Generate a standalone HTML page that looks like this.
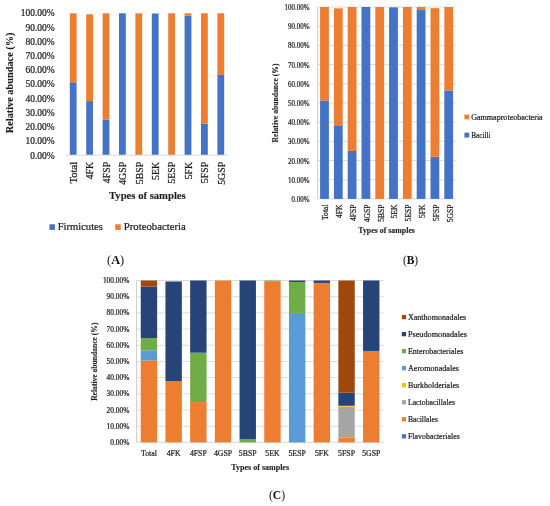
<!DOCTYPE html>
<html lang="en">
<head>
<meta charset="utf-8">
<title>Relative abundance charts</title>
<style>
html,body{margin:0;padding:0;background:#fff;}
body{width:550px;height:506px;overflow:hidden;}
svg{display:block;font-family:"Liberation Serif","DejaVu Serif",serif;}
</style>
</head>
<body>
<svg width="550" height="506" viewBox="0 0 550 506">
<rect x="0" y="0" width="550" height="506" fill="#ffffff"/>
<g id="chartA">
<rect x="69.80" y="82.26" width="6.80" height="72.64" fill="#4472C4"/>
<rect x="69.80" y="13.30" width="6.80" height="68.96" fill="#ED7D31"/>
<rect x="86.20" y="101.09" width="6.80" height="53.81" fill="#4472C4"/>
<rect x="86.20" y="14.29" width="6.80" height="86.80" fill="#ED7D31"/>
<rect x="102.60" y="119.50" width="6.80" height="35.40" fill="#4472C4"/>
<rect x="102.60" y="13.30" width="6.80" height="106.20" fill="#ED7D31"/>
<rect x="119.00" y="13.30" width="6.80" height="141.60" fill="#4472C4"/>
<rect x="135.40" y="13.30" width="6.80" height="141.60" fill="#ED7D31"/>
<rect x="151.80" y="14.01" width="6.80" height="140.89" fill="#4472C4"/>
<rect x="151.80" y="13.30" width="6.80" height="0.71" fill="#ED7D31"/>
<rect x="168.20" y="13.30" width="6.80" height="141.60" fill="#ED7D31"/>
<rect x="184.60" y="15.57" width="6.80" height="139.33" fill="#4472C4"/>
<rect x="184.60" y="13.30" width="6.80" height="2.27" fill="#ED7D31"/>
<rect x="201.00" y="123.75" width="6.80" height="31.15" fill="#4472C4"/>
<rect x="201.00" y="13.30" width="6.80" height="110.45" fill="#ED7D31"/>
<rect x="217.40" y="74.90" width="6.80" height="80.00" fill="#4472C4"/>
<rect x="217.40" y="13.30" width="6.80" height="61.60" fill="#ED7D31"/>
<line x1="65.50" y1="155.20" x2="228.50" y2="155.20" stroke="#D0D0D0" stroke-width="0.8"/>
<text x="54.70" y="158.65" font-size="9.6" text-anchor="end" fill="#1c1c1c" stroke="#1c1c1c" stroke-width="0.22" textLength="24.44" lengthAdjust="spacingAndGlyphs">0.00%</text>
<text x="54.70" y="144.42" font-size="9.6" text-anchor="end" fill="#1c1c1c" stroke="#1c1c1c" stroke-width="0.22" textLength="29.17" lengthAdjust="spacingAndGlyphs">10.00%</text>
<text x="54.70" y="130.18" font-size="9.6" text-anchor="end" fill="#1c1c1c" stroke="#1c1c1c" stroke-width="0.22" textLength="29.17" lengthAdjust="spacingAndGlyphs">20.00%</text>
<text x="54.70" y="115.95" font-size="9.6" text-anchor="end" fill="#1c1c1c" stroke="#1c1c1c" stroke-width="0.22" textLength="29.17" lengthAdjust="spacingAndGlyphs">30.00%</text>
<text x="54.70" y="101.71" font-size="9.6" text-anchor="end" fill="#1c1c1c" stroke="#1c1c1c" stroke-width="0.22" textLength="29.17" lengthAdjust="spacingAndGlyphs">40.00%</text>
<text x="54.70" y="87.48" font-size="9.6" text-anchor="end" fill="#1c1c1c" stroke="#1c1c1c" stroke-width="0.22" textLength="29.17" lengthAdjust="spacingAndGlyphs">50.00%</text>
<text x="54.70" y="73.24" font-size="9.6" text-anchor="end" fill="#1c1c1c" stroke="#1c1c1c" stroke-width="0.22" textLength="29.17" lengthAdjust="spacingAndGlyphs">60.00%</text>
<text x="54.70" y="59.01" font-size="9.6" text-anchor="end" fill="#1c1c1c" stroke="#1c1c1c" stroke-width="0.22" textLength="29.17" lengthAdjust="spacingAndGlyphs">70.00%</text>
<text x="54.70" y="44.77" font-size="9.6" text-anchor="end" fill="#1c1c1c" stroke="#1c1c1c" stroke-width="0.22" textLength="29.17" lengthAdjust="spacingAndGlyphs">80.00%</text>
<text x="54.70" y="30.53" font-size="9.6" text-anchor="end" fill="#1c1c1c" stroke="#1c1c1c" stroke-width="0.22" textLength="29.17" lengthAdjust="spacingAndGlyphs">90.00%</text>
<text x="54.70" y="16.30" font-size="9.6" text-anchor="end" fill="#1c1c1c" stroke="#1c1c1c" stroke-width="0.22" textLength="33.90" lengthAdjust="spacingAndGlyphs">100.00%</text>
<text x="77.10" y="161.90" font-size="9.8" text-anchor="end" fill="#1c1c1c" stroke="#1c1c1c" stroke-width="0.22" transform="rotate(-90 77.10 161.90)" textLength="21.60" lengthAdjust="spacingAndGlyphs">Total</text>
<text x="93.50" y="161.90" font-size="9.8" text-anchor="end" fill="#1c1c1c" stroke="#1c1c1c" stroke-width="0.22" transform="rotate(-90 93.50 161.90)">4FK</text>
<text x="109.90" y="161.90" font-size="9.8" text-anchor="end" fill="#1c1c1c" stroke="#1c1c1c" stroke-width="0.22" transform="rotate(-90 109.90 161.90)">4FSP</text>
<text x="126.30" y="161.90" font-size="9.8" text-anchor="end" fill="#1c1c1c" stroke="#1c1c1c" stroke-width="0.22" transform="rotate(-90 126.30 161.90)">4GSP</text>
<text x="142.70" y="161.90" font-size="9.8" text-anchor="end" fill="#1c1c1c" stroke="#1c1c1c" stroke-width="0.22" transform="rotate(-90 142.70 161.90)">5BSP</text>
<text x="159.10" y="161.90" font-size="9.8" text-anchor="end" fill="#1c1c1c" stroke="#1c1c1c" stroke-width="0.22" transform="rotate(-90 159.10 161.90)">5EK</text>
<text x="175.50" y="161.90" font-size="9.8" text-anchor="end" fill="#1c1c1c" stroke="#1c1c1c" stroke-width="0.22" transform="rotate(-90 175.50 161.90)">5ESP</text>
<text x="191.90" y="161.90" font-size="9.8" text-anchor="end" fill="#1c1c1c" stroke="#1c1c1c" stroke-width="0.22" transform="rotate(-90 191.90 161.90)">5FK</text>
<text x="208.30" y="161.90" font-size="9.8" text-anchor="end" fill="#1c1c1c" stroke="#1c1c1c" stroke-width="0.22" transform="rotate(-90 208.30 161.90)">5FSP</text>
<text x="224.70" y="161.90" font-size="9.8" text-anchor="end" fill="#1c1c1c" stroke="#1c1c1c" stroke-width="0.22" transform="rotate(-90 224.70 161.90)">5GSP</text>
<text x="147.40" y="199.40" font-size="10.6" text-anchor="middle" fill="#1c1c1c" font-weight="bold" stroke="#1c1c1c" stroke-width="0.1" textLength="76.70" lengthAdjust="spacingAndGlyphs">Types of samples</text>
<text x="13.50" y="82.90" font-size="10.2" text-anchor="middle" fill="#1c1c1c" font-weight="bold" stroke="#1c1c1c" stroke-width="0.1" transform="rotate(-90 13.50 82.90)" textLength="100.70" lengthAdjust="spacingAndGlyphs">Relative abundace (%)</text>
<rect x="49.40" y="224.30" width="5.60" height="5.60" fill="#4472C4"/>
<text x="57.70" y="230.20" font-size="10.6" text-anchor="start" fill="#1c1c1c" stroke="#1c1c1c" stroke-width="0.22" textLength="45.20" lengthAdjust="spacingAndGlyphs">Firmicutes</text>
<rect x="115.20" y="224.30" width="5.60" height="5.60" fill="#ED7D31"/>
<text x="123.80" y="230.20" font-size="10.6" text-anchor="start" fill="#1c1c1c" stroke="#1c1c1c" stroke-width="0.22" textLength="61.90" lengthAdjust="spacingAndGlyphs">Proteobacteria</text>
</g>
<g id="chartB">
<line x1="317.60" y1="198.90" x2="455.60" y2="198.90" stroke="#D6D6D6" stroke-width="0.85"/>
<line x1="317.60" y1="179.71" x2="455.60" y2="179.71" stroke="#D6D6D6" stroke-width="0.85"/>
<line x1="317.60" y1="160.52" x2="455.60" y2="160.52" stroke="#D6D6D6" stroke-width="0.85"/>
<line x1="317.60" y1="141.33" x2="455.60" y2="141.33" stroke="#D6D6D6" stroke-width="0.85"/>
<line x1="317.60" y1="122.14" x2="455.60" y2="122.14" stroke="#D6D6D6" stroke-width="0.85"/>
<line x1="317.60" y1="102.95" x2="455.60" y2="102.95" stroke="#D6D6D6" stroke-width="0.85"/>
<line x1="317.60" y1="83.76" x2="455.60" y2="83.76" stroke="#D6D6D6" stroke-width="0.85"/>
<line x1="317.60" y1="64.57" x2="455.60" y2="64.57" stroke="#D6D6D6" stroke-width="0.85"/>
<line x1="317.60" y1="45.38" x2="455.60" y2="45.38" stroke="#D6D6D6" stroke-width="0.85"/>
<line x1="317.60" y1="26.19" x2="455.60" y2="26.19" stroke="#D6D6D6" stroke-width="0.85"/>
<line x1="317.60" y1="7.00" x2="455.60" y2="7.00" stroke="#D6D6D6" stroke-width="0.85"/>
<line x1="317.60" y1="7.00" x2="317.60" y2="198.90" stroke="#BFBFBF" stroke-width="0.8"/>
<rect x="320.10" y="100.46" width="8.80" height="98.44" fill="#4472C4"/>
<rect x="320.10" y="7.00" width="8.80" height="93.46" fill="#ED7D31"/>
<rect x="333.90" y="125.98" width="8.80" height="72.92" fill="#4472C4"/>
<rect x="333.90" y="8.34" width="8.80" height="117.63" fill="#ED7D31"/>
<rect x="347.70" y="150.93" width="8.80" height="47.98" fill="#4472C4"/>
<rect x="347.70" y="7.00" width="8.80" height="143.93" fill="#ED7D31"/>
<rect x="361.50" y="7.00" width="8.80" height="191.90" fill="#4472C4"/>
<rect x="375.30" y="7.00" width="8.80" height="191.90" fill="#ED7D31"/>
<rect x="389.10" y="7.96" width="8.80" height="190.94" fill="#4472C4"/>
<rect x="389.10" y="7.00" width="8.80" height="0.96" fill="#ED7D31"/>
<rect x="402.90" y="7.00" width="8.80" height="191.90" fill="#ED7D31"/>
<rect x="416.70" y="10.07" width="8.80" height="188.83" fill="#4472C4"/>
<rect x="416.70" y="7.00" width="8.80" height="3.07" fill="#ED7D31"/>
<rect x="430.50" y="156.68" width="8.80" height="42.22" fill="#4472C4"/>
<rect x="430.50" y="8.15" width="8.80" height="148.53" fill="#ED7D31"/>
<rect x="444.30" y="90.48" width="8.80" height="108.42" fill="#4472C4"/>
<rect x="444.30" y="7.00" width="8.80" height="83.48" fill="#ED7D31"/>
<text x="309.50" y="202.00" font-size="7.5" text-anchor="end" fill="#1c1c1c" stroke="#1c1c1c" stroke-width="0.22" textLength="17.95" lengthAdjust="spacingAndGlyphs">0.00%</text>
<text x="309.50" y="182.81" font-size="7.5" text-anchor="end" fill="#1c1c1c" stroke="#1c1c1c" stroke-width="0.22" textLength="21.43" lengthAdjust="spacingAndGlyphs">10.00%</text>
<text x="309.50" y="163.62" font-size="7.5" text-anchor="end" fill="#1c1c1c" stroke="#1c1c1c" stroke-width="0.22" textLength="21.43" lengthAdjust="spacingAndGlyphs">20.00%</text>
<text x="309.50" y="144.43" font-size="7.5" text-anchor="end" fill="#1c1c1c" stroke="#1c1c1c" stroke-width="0.22" textLength="21.43" lengthAdjust="spacingAndGlyphs">30.00%</text>
<text x="309.50" y="125.24" font-size="7.5" text-anchor="end" fill="#1c1c1c" stroke="#1c1c1c" stroke-width="0.22" textLength="21.43" lengthAdjust="spacingAndGlyphs">40.00%</text>
<text x="309.50" y="106.05" font-size="7.5" text-anchor="end" fill="#1c1c1c" stroke="#1c1c1c" stroke-width="0.22" textLength="21.43" lengthAdjust="spacingAndGlyphs">50.00%</text>
<text x="309.50" y="86.86" font-size="7.5" text-anchor="end" fill="#1c1c1c" stroke="#1c1c1c" stroke-width="0.22" textLength="21.43" lengthAdjust="spacingAndGlyphs">60.00%</text>
<text x="309.50" y="67.67" font-size="7.5" text-anchor="end" fill="#1c1c1c" stroke="#1c1c1c" stroke-width="0.22" textLength="21.43" lengthAdjust="spacingAndGlyphs">70.00%</text>
<text x="309.50" y="48.48" font-size="7.5" text-anchor="end" fill="#1c1c1c" stroke="#1c1c1c" stroke-width="0.22" textLength="21.43" lengthAdjust="spacingAndGlyphs">80.00%</text>
<text x="309.50" y="29.29" font-size="7.5" text-anchor="end" fill="#1c1c1c" stroke="#1c1c1c" stroke-width="0.22" textLength="21.43" lengthAdjust="spacingAndGlyphs">90.00%</text>
<text x="309.50" y="10.10" font-size="7.5" text-anchor="end" fill="#1c1c1c" stroke="#1c1c1c" stroke-width="0.22" textLength="24.90" lengthAdjust="spacingAndGlyphs">100.00%</text>
<text x="328.30" y="204.50" font-size="7.6" text-anchor="end" fill="#1c1c1c" stroke="#1c1c1c" stroke-width="0.22" transform="rotate(-90 328.30 204.50)">Total</text>
<text x="342.10" y="204.50" font-size="7.6" text-anchor="end" fill="#1c1c1c" stroke="#1c1c1c" stroke-width="0.22" transform="rotate(-90 342.10 204.50)">4FK</text>
<text x="355.90" y="204.50" font-size="7.6" text-anchor="end" fill="#1c1c1c" stroke="#1c1c1c" stroke-width="0.22" transform="rotate(-90 355.90 204.50)">4FSP</text>
<text x="369.70" y="204.50" font-size="7.6" text-anchor="end" fill="#1c1c1c" stroke="#1c1c1c" stroke-width="0.22" transform="rotate(-90 369.70 204.50)">4GSP</text>
<text x="383.50" y="204.50" font-size="7.6" text-anchor="end" fill="#1c1c1c" stroke="#1c1c1c" stroke-width="0.22" transform="rotate(-90 383.50 204.50)">5BSP</text>
<text x="397.30" y="204.50" font-size="7.6" text-anchor="end" fill="#1c1c1c" stroke="#1c1c1c" stroke-width="0.22" transform="rotate(-90 397.30 204.50)">5EK</text>
<text x="411.10" y="204.50" font-size="7.6" text-anchor="end" fill="#1c1c1c" stroke="#1c1c1c" stroke-width="0.22" transform="rotate(-90 411.10 204.50)">5ESP</text>
<text x="424.90" y="204.50" font-size="7.6" text-anchor="end" fill="#1c1c1c" stroke="#1c1c1c" stroke-width="0.22" transform="rotate(-90 424.90 204.50)">5FK</text>
<text x="438.70" y="204.50" font-size="7.6" text-anchor="end" fill="#1c1c1c" stroke="#1c1c1c" stroke-width="0.22" transform="rotate(-90 438.70 204.50)">5FSP</text>
<text x="452.50" y="204.50" font-size="7.6" text-anchor="end" fill="#1c1c1c" stroke="#1c1c1c" stroke-width="0.22" transform="rotate(-90 452.50 204.50)">5GSP</text>
<text x="386.60" y="233.10" font-size="7.9" text-anchor="middle" fill="#1c1c1c" font-weight="bold" stroke="#1c1c1c" stroke-width="0.1" textLength="56.70" lengthAdjust="spacingAndGlyphs">Types of samples</text>
<text x="278.40" y="103.00" font-size="7.7" text-anchor="middle" fill="#1c1c1c" font-weight="bold" stroke="#1c1c1c" stroke-width="0.1" transform="rotate(-90 278.40 103.00)" textLength="79.00" lengthAdjust="spacingAndGlyphs">Relative abundance (%)</text>
<rect x="464.40" y="114.60" width="4.80" height="4.80" fill="#ED7D31"/>
<text x="471.20" y="119.70" font-size="8.0" text-anchor="start" fill="#1c1c1c" stroke="#1c1c1c" stroke-width="0.22" textLength="71.50" lengthAdjust="spacingAndGlyphs">Gammaproteobacteria</text>
<rect x="464.40" y="132.70" width="4.80" height="4.80" fill="#4472C4"/>
<text x="471.20" y="137.80" font-size="8.0" text-anchor="start" fill="#1c1c1c" stroke="#1c1c1c" stroke-width="0.22" textLength="19.30" lengthAdjust="spacingAndGlyphs">Bacilli</text>
</g>
<g id="chartC">
<line x1="136.60" y1="442.40" x2="383.60" y2="442.40" stroke="#D6D6D6" stroke-width="0.85"/>
<line x1="136.60" y1="426.21" x2="383.60" y2="426.21" stroke="#D6D6D6" stroke-width="0.85"/>
<line x1="136.60" y1="410.02" x2="383.60" y2="410.02" stroke="#D6D6D6" stroke-width="0.85"/>
<line x1="136.60" y1="393.83" x2="383.60" y2="393.83" stroke="#D6D6D6" stroke-width="0.85"/>
<line x1="136.60" y1="377.64" x2="383.60" y2="377.64" stroke="#D6D6D6" stroke-width="0.85"/>
<line x1="136.60" y1="361.45" x2="383.60" y2="361.45" stroke="#D6D6D6" stroke-width="0.85"/>
<line x1="136.60" y1="345.26" x2="383.60" y2="345.26" stroke="#D6D6D6" stroke-width="0.85"/>
<line x1="136.60" y1="329.07" x2="383.60" y2="329.07" stroke="#D6D6D6" stroke-width="0.85"/>
<line x1="136.60" y1="312.88" x2="383.60" y2="312.88" stroke="#D6D6D6" stroke-width="0.85"/>
<line x1="136.60" y1="296.69" x2="383.60" y2="296.69" stroke="#D6D6D6" stroke-width="0.85"/>
<line x1="136.60" y1="280.50" x2="383.60" y2="280.50" stroke="#D6D6D6" stroke-width="0.85"/>
<line x1="136.60" y1="280.50" x2="136.60" y2="442.40" stroke="#BFBFBF" stroke-width="0.8"/>
<rect x="140.75" y="360.96" width="16.40" height="81.44" fill="#ED7D31"/>
<rect x="140.75" y="359.99" width="16.40" height="0.97" fill="#A5A5A5"/>
<rect x="140.75" y="350.28" width="16.40" height="9.71" fill="#5B9BD5"/>
<rect x="140.75" y="338.14" width="16.40" height="12.14" fill="#70AD47"/>
<rect x="140.75" y="286.49" width="16.40" height="51.65" fill="#264478"/>
<rect x="140.75" y="280.50" width="16.40" height="5.99" fill="#9E480E"/>
<rect x="165.45" y="381.04" width="16.40" height="61.36" fill="#ED7D31"/>
<rect x="165.45" y="281.47" width="16.40" height="99.57" fill="#264478"/>
<rect x="190.15" y="402.09" width="16.40" height="40.31" fill="#ED7D31"/>
<rect x="190.15" y="352.71" width="16.40" height="49.38" fill="#70AD47"/>
<rect x="190.15" y="280.50" width="16.40" height="72.21" fill="#264478"/>
<rect x="214.85" y="280.50" width="16.40" height="161.90" fill="#ED7D31"/>
<rect x="239.55" y="439.16" width="16.40" height="3.24" fill="#70AD47"/>
<rect x="239.55" y="280.50" width="16.40" height="158.66" fill="#264478"/>
<rect x="264.25" y="281.15" width="16.40" height="161.25" fill="#ED7D31"/>
<rect x="264.25" y="280.50" width="16.40" height="0.65" fill="#70AD47"/>
<rect x="288.95" y="312.88" width="16.40" height="129.52" fill="#5B9BD5"/>
<rect x="288.95" y="282.12" width="16.40" height="30.76" fill="#70AD47"/>
<rect x="288.95" y="280.50" width="16.40" height="1.62" fill="#264478"/>
<rect x="313.65" y="282.93" width="16.40" height="159.47" fill="#ED7D31"/>
<rect x="313.65" y="280.50" width="16.40" height="2.43" fill="#264478"/>
<rect x="338.35" y="437.70" width="16.40" height="4.70" fill="#ED7D31"/>
<rect x="338.35" y="406.62" width="16.40" height="31.08" fill="#A5A5A5"/>
<rect x="338.35" y="405.81" width="16.40" height="0.81" fill="#FFC000"/>
<rect x="338.35" y="392.70" width="16.40" height="13.11" fill="#264478"/>
<rect x="338.35" y="280.50" width="16.40" height="112.20" fill="#9E480E"/>
<rect x="363.05" y="350.93" width="16.40" height="91.47" fill="#ED7D31"/>
<rect x="363.05" y="280.50" width="16.40" height="70.43" fill="#264478"/>
<text x="129.30" y="444.90" font-size="7.4" text-anchor="end" fill="#1c1c1c" stroke="#1c1c1c" stroke-width="0.22" textLength="19.03" lengthAdjust="spacingAndGlyphs">0.00%</text>
<text x="129.30" y="428.71" font-size="7.4" text-anchor="end" fill="#1c1c1c" stroke="#1c1c1c" stroke-width="0.22" textLength="22.72" lengthAdjust="spacingAndGlyphs">10.00%</text>
<text x="129.30" y="412.52" font-size="7.4" text-anchor="end" fill="#1c1c1c" stroke="#1c1c1c" stroke-width="0.22" textLength="22.72" lengthAdjust="spacingAndGlyphs">20.00%</text>
<text x="129.30" y="396.33" font-size="7.4" text-anchor="end" fill="#1c1c1c" stroke="#1c1c1c" stroke-width="0.22" textLength="22.72" lengthAdjust="spacingAndGlyphs">30.00%</text>
<text x="129.30" y="380.14" font-size="7.4" text-anchor="end" fill="#1c1c1c" stroke="#1c1c1c" stroke-width="0.22" textLength="22.72" lengthAdjust="spacingAndGlyphs">40.00%</text>
<text x="129.30" y="363.95" font-size="7.4" text-anchor="end" fill="#1c1c1c" stroke="#1c1c1c" stroke-width="0.22" textLength="22.72" lengthAdjust="spacingAndGlyphs">50.00%</text>
<text x="129.30" y="347.76" font-size="7.4" text-anchor="end" fill="#1c1c1c" stroke="#1c1c1c" stroke-width="0.22" textLength="22.72" lengthAdjust="spacingAndGlyphs">60.00%</text>
<text x="129.30" y="331.57" font-size="7.4" text-anchor="end" fill="#1c1c1c" stroke="#1c1c1c" stroke-width="0.22" textLength="22.72" lengthAdjust="spacingAndGlyphs">70.00%</text>
<text x="129.30" y="315.38" font-size="7.4" text-anchor="end" fill="#1c1c1c" stroke="#1c1c1c" stroke-width="0.22" textLength="22.72" lengthAdjust="spacingAndGlyphs">80.00%</text>
<text x="129.30" y="299.19" font-size="7.4" text-anchor="end" fill="#1c1c1c" stroke="#1c1c1c" stroke-width="0.22" textLength="22.72" lengthAdjust="spacingAndGlyphs">90.00%</text>
<text x="129.30" y="283.00" font-size="7.4" text-anchor="end" fill="#1c1c1c" stroke="#1c1c1c" stroke-width="0.22" textLength="26.40" lengthAdjust="spacingAndGlyphs">100.00%</text>
<text x="148.95" y="456.00" font-size="7.8" text-anchor="middle" fill="#1c1c1c" stroke="#1c1c1c" stroke-width="0.22">Total</text>
<text x="173.65" y="456.00" font-size="7.8" text-anchor="middle" fill="#1c1c1c" stroke="#1c1c1c" stroke-width="0.22">4FK</text>
<text x="198.35" y="456.00" font-size="7.8" text-anchor="middle" fill="#1c1c1c" stroke="#1c1c1c" stroke-width="0.22">4FSP</text>
<text x="223.05" y="456.00" font-size="7.8" text-anchor="middle" fill="#1c1c1c" stroke="#1c1c1c" stroke-width="0.22">4GSP</text>
<text x="247.75" y="456.00" font-size="7.8" text-anchor="middle" fill="#1c1c1c" stroke="#1c1c1c" stroke-width="0.22">5BSP</text>
<text x="272.45" y="456.00" font-size="7.8" text-anchor="middle" fill="#1c1c1c" stroke="#1c1c1c" stroke-width="0.22">5EK</text>
<text x="297.15" y="456.00" font-size="7.8" text-anchor="middle" fill="#1c1c1c" stroke="#1c1c1c" stroke-width="0.22">5ESP</text>
<text x="321.85" y="456.00" font-size="7.8" text-anchor="middle" fill="#1c1c1c" stroke="#1c1c1c" stroke-width="0.22">5FK</text>
<text x="346.55" y="456.00" font-size="7.8" text-anchor="middle" fill="#1c1c1c" stroke="#1c1c1c" stroke-width="0.22">5FSP</text>
<text x="371.25" y="456.00" font-size="7.8" text-anchor="middle" fill="#1c1c1c" stroke="#1c1c1c" stroke-width="0.22">5GSP</text>
<text x="260.20" y="469.70" font-size="8" text-anchor="middle" fill="#1c1c1c" font-weight="bold" stroke="#1c1c1c" stroke-width="0.1" textLength="57.70" lengthAdjust="spacingAndGlyphs">Types of samples</text>
<text x="96.90" y="361.70" font-size="7.6" text-anchor="middle" fill="#1c1c1c" font-weight="bold" stroke="#1c1c1c" stroke-width="0.1" transform="rotate(-90 96.90 361.70)" textLength="78.30" lengthAdjust="spacingAndGlyphs">Relative abundance (%)</text>
<rect x="401.80" y="314.95" width="4.30" height="4.30" fill="#9E480E"/>
<text x="407.90" y="319.70" font-size="8.1" text-anchor="start" fill="#1c1c1c" stroke="#1c1c1c" stroke-width="0.22" textLength="58.30" lengthAdjust="spacingAndGlyphs">Xanthomonadales</text>
<rect x="401.80" y="331.98" width="4.30" height="4.30" fill="#264478"/>
<text x="407.90" y="336.73" font-size="8.1" text-anchor="start" fill="#1c1c1c" stroke="#1c1c1c" stroke-width="0.22" textLength="59.00" lengthAdjust="spacingAndGlyphs">Pseudomonadales</text>
<rect x="401.80" y="349.01" width="4.30" height="4.30" fill="#70AD47"/>
<text x="407.90" y="353.76" font-size="8.1" text-anchor="start" fill="#1c1c1c" stroke="#1c1c1c" stroke-width="0.22" textLength="55.50" lengthAdjust="spacingAndGlyphs">Enterobacteriales</text>
<rect x="401.80" y="366.04" width="4.30" height="4.30" fill="#5B9BD5"/>
<text x="407.90" y="370.79" font-size="8.1" text-anchor="start" fill="#1c1c1c" stroke="#1c1c1c" stroke-width="0.22" textLength="51.10" lengthAdjust="spacingAndGlyphs">Aeromonadales</text>
<rect x="401.80" y="383.07" width="4.30" height="4.30" fill="#FFC000"/>
<text x="407.90" y="387.82" font-size="8.1" text-anchor="start" fill="#1c1c1c" stroke="#1c1c1c" stroke-width="0.22" textLength="51.20" lengthAdjust="spacingAndGlyphs">Burkholderiales</text>
<rect x="401.80" y="400.10" width="4.30" height="4.30" fill="#A5A5A5"/>
<text x="407.90" y="404.85" font-size="8.1" text-anchor="start" fill="#1c1c1c" stroke="#1c1c1c" stroke-width="0.22" textLength="47.20" lengthAdjust="spacingAndGlyphs">Lactobacillales</text>
<rect x="401.80" y="417.13" width="4.30" height="4.30" fill="#ED7D31"/>
<text x="407.90" y="421.88" font-size="8.1" text-anchor="start" fill="#1c1c1c" stroke="#1c1c1c" stroke-width="0.22" textLength="30.00" lengthAdjust="spacingAndGlyphs">Bacillales</text>
<rect x="401.80" y="434.16" width="4.30" height="4.30" fill="#4472C4"/>
<text x="407.90" y="438.91" font-size="8.1" text-anchor="start" fill="#1c1c1c" stroke="#1c1c1c" stroke-width="0.22" textLength="51.90" lengthAdjust="spacingAndGlyphs">Flavobacteriales</text>
</g>
<text x="115.60" y="264.40" font-size="13" text-anchor="middle" fill="#111" textLength="17.1" lengthAdjust="spacingAndGlyphs">(<tspan font-weight="bold">A</tspan>)</text>
<text x="410.50" y="264.40" font-size="13" text-anchor="middle" fill="#111" textLength="15.2" lengthAdjust="spacingAndGlyphs">(<tspan font-weight="bold">B</tspan>)</text>
<text x="277.00" y="499.40" font-size="13" text-anchor="middle" fill="#111" textLength="16.2" lengthAdjust="spacingAndGlyphs">(<tspan font-weight="bold">C</tspan>)</text>
</svg>
</body>
</html>
